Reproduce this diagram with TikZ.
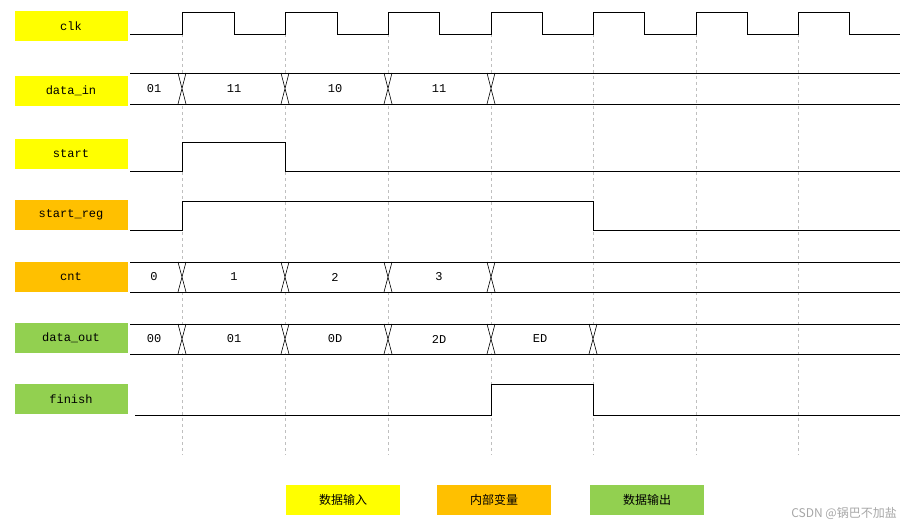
\documentclass[tikz,border=0pt]{standalone}
\usepackage{fontspec}
\setmainfont{Liberation Mono}
\newfontfamily\cjk{Noto Sans CJK SC}
\begin{document}
\begin{tikzpicture}[x=1pt,y=-1pt,
  sig/.style={line width=0.9pt,black},
  grid/.style={dashed,gray!50,line width=0.6pt},
  lab/.style={minimum width=113pt,minimum height=30pt,inner sep=0pt,font=\fontsize{12}{14}\selectfont},
  val/.style={font=\fontsize{12}{14}\selectfont,inner sep=0pt},
  leg/.style={minimum width=114pt,minimum height=30pt,inner sep=0pt,font=\cjk\fontsize{12}{14}\selectfont}]
\useasboundingbox (0,0) rectangle (912,532);
\definecolor{cy}{HTML}{FFFF00}\definecolor{co}{HTML}{FFC000}\definecolor{cg}{HTML}{92D050}
% grid
\foreach \x in {182,285,388,491,593,696,798} \draw[grid] (\x,34) -- (\x,455);
% labels
\node[lab,fill=cy] (l1) at (71,26) {clk};
\node[lab,fill=cy] (l2) at (71,91) {data\_in};
\node[lab,fill=cy] (l3) at (71,154) {start};
\node[lab,fill=co] (l4) at (71,215) {start\_reg};
\node[lab,fill=co] (l5) at (71,277) {cnt};
\node[lab,fill=cg] (l6) at (71,338) {data\_out};
\node[lab,fill=cg] (l7) at (71,399) {finish};
% clk
\draw[sig] (130,34) -- (182,34) -- (182,12) -- (234,12) -- (234,34) -- (285,34) -- (285,12) -- (337,12) -- (337,34) -- (388,34) -- (388,12) -- (439,12) -- (439,34) -- (491,34) -- (491,12) -- (542,12) -- (542,34) -- (593,34) -- (593,12) -- (644,12) -- (644,34) -- (696,34) -- (696,12) -- (747,12) -- (747,34) -- (798,34) -- (798,12) -- (849,12) -- (849,34) -- (900,34);
% buses
\newcommand{\bus}[4]{% ytop ybot list-of-transitions lastx
  \draw[sig] (130,#1) -- (900,#1); \draw[sig] (130,#2) -- (900,#2);
  \foreach \t in {#3} {
    \fill[white] (\t-5,#1+0.6) rectangle (\t+5,#2-0.6);
    \draw[line width=0.6pt] (\t-4,#1) -- (\t+4,#2) (\t+4,#1) -- (\t-4,#2);}
}
\bus{73}{104}{182,285,388,491}{}
\node[val] (d0) at (154,89) {01};\node[val] (d1) at (234,89) {11};
\node[val] (d2) at (335,89) {10};\node[val] (d3) at (439,89) {11};
% start
\draw[sig] (130,171) -- (182,171) -- (182,142) -- (285,142) -- (285,171) -- (900,171);
% start_reg
\draw[sig] (130,230) -- (182,230) -- (182,201) -- (593,201) -- (593,230) -- (900,230);
% cnt
\bus{262}{292}{182,285,388,491}{}
\node[val] (c0) at (154,277) {0};\node[val] (c1) at (234,277) {1};
\node[val] (c2) at (335,277) {2};\node[val] (c3) at (439,277) {3};
% data_out
\bus{324}{354}{182,285,388,491,593}{}
\node[val] (o0) at (154,339) {00};\node[val] (o1) at (234,339) {01};
\node[val] (o2) at (335,339) {0D};\node[val] (o3) at (439,339) {2D};
\node[val] (o4) at (540,339) {ED};
% finish
\draw[sig] (135,415) -- (491,415) -- (491,384) -- (593,384) -- (593,415) -- (900,415);
% legend
\node[leg,fill=cy] (g1) at (343,500) {数据输入};
\node[leg,fill=co] (g2) at (494,500) {内部变量};
\node[leg,fill=cg] (g3) at (647,500) {数据输出};
\node[anchor=east,text=gray!70,inner sep=0pt,font=\cjk\fontsize{12}{14}\selectfont] (wm) at (897,513) {CSDN @锅巴不加盐};
\end{tikzpicture}
\end{document}
